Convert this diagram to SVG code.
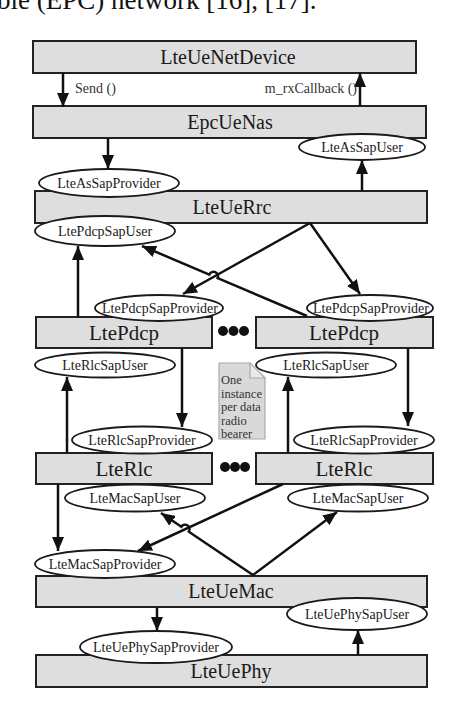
<svg xmlns="http://www.w3.org/2000/svg" width="474" height="710" viewBox="0 0 474 710" font-family="Liberation Serif, Times New Roman, serif">
<style>
text{font-family:'Liberation Serif','Times New Roman',serif}
.bg{fill:#ffffff}
.box{fill:#dedede;stroke:#222;stroke-width:2}
.bt{font-size:20px;fill:#1a1a1a;text-anchor:middle}
.bt2{font-size:21px;fill:#1a1a1a;text-anchor:middle}
.sap{fill:#ffffff;stroke:#1a1a1a;stroke-width:1.8}
.st{font-size:14px;fill:#1a1a1a;text-anchor:middle}
.lbl{font-size:14px;fill:#333}
.c{fill:none;stroke:#111;stroke-width:2.5;marker-end:url(#ah)}
.note{fill:#d9d9d9;stroke:#aaaaaa;stroke-width:1.2}
.fold{fill:#e9e9e9;stroke:#aaaaaa;stroke-width:1.2}
.nt{font-size:12.5px;fill:#333}
.dot{fill:#111}
.top{font-size:27px;fill:#111}
</style>
<defs>
<marker id="ah" markerUnits="userSpaceOnUse" markerWidth="14" markerHeight="12" refX="14" refY="6" orient="auto">
<path d="M0,0 L14,6 L0,12 Z" fill="#111"/>
</marker>
</defs>
<rect class="bg" x="0" y="0" width="474" height="710"/>
<text class="top" x="-3" y="9">ble (EPC) network [16], [17].</text>

<g id="LteUeNetDevice"><rect class="box" x="33" y="41" width="383" height="32"/><text class="bt" x="228" y="64">LteUeNetDevice</text></g>
<g id="EpcUeNas"><rect class="box" x="33" y="106" width="393" height="32"/><text class="bt" x="230" y="129">EpcUeNas</text></g>
<g id="LteUeRrc"><rect class="box" x="35" y="191" width="392" height="32"/><text class="bt" x="232" y="214">LteUeRrc</text></g>
<g id="LtePdcp1"><rect class="box" x="36" y="317" width="176" height="31"/><text class="bt2" x="124" y="340">LtePdcp</text></g>
<g id="LtePdcp2"><rect class="box" x="256" y="317" width="177" height="31"/><text class="bt2" x="344" y="340">LtePdcp</text></g>
<g id="LteRlc1"><rect class="box" x="36" y="453" width="176" height="31"/><text class="bt2" x="124" y="476">LteRlc</text></g>
<g id="LteRlc2"><rect class="box" x="256" y="453" width="177" height="31"/><text class="bt2" x="344" y="476">LteRlc</text></g>
<g id="LteUeMac"><rect class="box" x="36" y="576" width="391" height="31"/><text class="bt" x="231" y="598">LteUeMac</text></g>
<g id="LteUePhy"><rect class="box" x="36" y="655" width="391" height="32"/><text class="bt" x="231" y="678">LteUePhy</text></g>

<g id="dots1"><circle class="dot" cx="223" cy="331" r="5"/><circle class="dot" cx="233.5" cy="331" r="5"/><circle class="dot" cx="244" cy="331" r="5"/></g>
<g id="dots2"><circle class="dot" cx="225" cy="467" r="5"/><circle class="dot" cx="235" cy="467" r="5"/><circle class="dot" cx="245" cy="467" r="5"/></g>

<g id="note">
<path class="note" d="M219,363 H250 L265,378 V439 H219 Z"/>
<path class="fold" d="M250,363 V378 H265 Z"/>
<text class="nt" x="221" y="384">One</text>
<text class="nt" x="221" y="397.5">instance</text>
<text class="nt" x="221" y="411">per data</text>
<text class="nt" x="221" y="424.5">radio</text>
<text class="nt" x="221" y="438">bearer</text>
</g>

<g id="connectors">
<path class="c" d="M63,73 V107"/>
<path class="c" d="M360,106 V73"/>
<path class="c" d="M108,138 V169"/>
<path class="c" d="M362,191 V160"/>
<path class="c" d="M78,317 V246"/>
<path class="c" d="M310,223 L183,294"/>
<path class="c" d="M310,223 L360,294"/>
<path class="c" d="M307,316 L217.65,278.1 A4.5,4.5 0 0 0 209.35,274.57 L142,246"/>
<path class="c" d="M182,348 V427"/>
<path class="c" d="M67,453 V377"/>
<path class="c" d="M408,348 V426"/>
<path class="c" d="M288,453 V377"/>
<path class="c" d="M58,484 V551"/>
<path class="c" d="M283,484 L138,551"/>
<path class="c" d="M253,575 L188.83,531.72 A4.5,4.5 0 0 0 181.37,526.68 L161,513"/>
<path class="c" d="M253,575 L337,512"/>
<path class="c" d="M157,607 V631"/>
<path class="c" d="M358,655 V630"/>
<text class="lbl" x="75" y="93">Send ()</text>
<text class="lbl" x="357" y="93" text-anchor="end">m_rxCallback ()</text>
</g>

<g id="LteAsSapUser"><ellipse class="sap" cx="362" cy="147" rx="63" ry="13"/><text class="st" x="362" y="152">LteAsSapUser</text></g>
<g id="LteAsSapProvider"><ellipse class="sap" cx="109" cy="183" rx="70" ry="14"/><text class="st" x="109" y="188">LteAsSapProvider</text></g>
<g id="LtePdcpSapUser"><ellipse class="sap" cx="105" cy="231" rx="70" ry="15"/><text class="st" x="105" y="236">LtePdcpSapUser</text></g>
<g id="LtePdcpSapProvider1"><ellipse class="sap" cx="159" cy="308" rx="64" ry="13"/><text class="st" x="160" y="313">LtePdcpSapProvider</text></g>
<g id="LtePdcpSapProvider2"><ellipse class="sap" cx="370" cy="308" rx="63" ry="13"/><text class="st" x="371" y="313">LtePdcpSapProvider</text></g>
<g id="LteRlcSapUser1"><ellipse class="sap" cx="105" cy="365" rx="70" ry="12.5"/><text class="st" x="105" y="370">LteRlcSapUser</text></g>
<g id="LteRlcSapUser2"><ellipse class="sap" cx="326" cy="365" rx="70" ry="12.5"/><text class="st" x="326" y="370">LteRlcSapUser</text></g>
<g id="LteRlcSapProvider1"><ellipse class="sap" cx="142" cy="440" rx="70" ry="13.5"/><text class="st" x="142" y="445">LteRlcSapProvider</text></g>
<g id="LteRlcSapProvider2"><ellipse class="sap" cx="364" cy="440" rx="70" ry="13.5"/><text class="st" x="364" y="445">LteRlcSapProvider</text></g>
<g id="LteMacSapUser1"><ellipse class="sap" cx="135" cy="498" rx="70" ry="13.5"/><text class="st" x="135" y="503">LteMacSapUser</text></g>
<g id="LteMacSapUser2"><ellipse class="sap" cx="358" cy="498" rx="70" ry="13.5"/><text class="st" x="358" y="503">LteMacSapUser</text></g>
<g id="LteMacSapProvider"><ellipse class="sap" cx="105" cy="564" rx="70" ry="14"/><text class="st" x="105" y="569">LteMacSapProvider</text></g>
<g id="LteUePhySapUser"><ellipse class="sap" cx="357" cy="614" rx="70" ry="16"/><text class="st" x="357" y="619">LteUePhySapUser</text></g>
<g id="LteUePhySapProvider"><ellipse class="sap" cx="156" cy="647" rx="76" ry="16"/><text class="st" x="156" y="652">LteUePhySapProvider</text></g>
</svg>
